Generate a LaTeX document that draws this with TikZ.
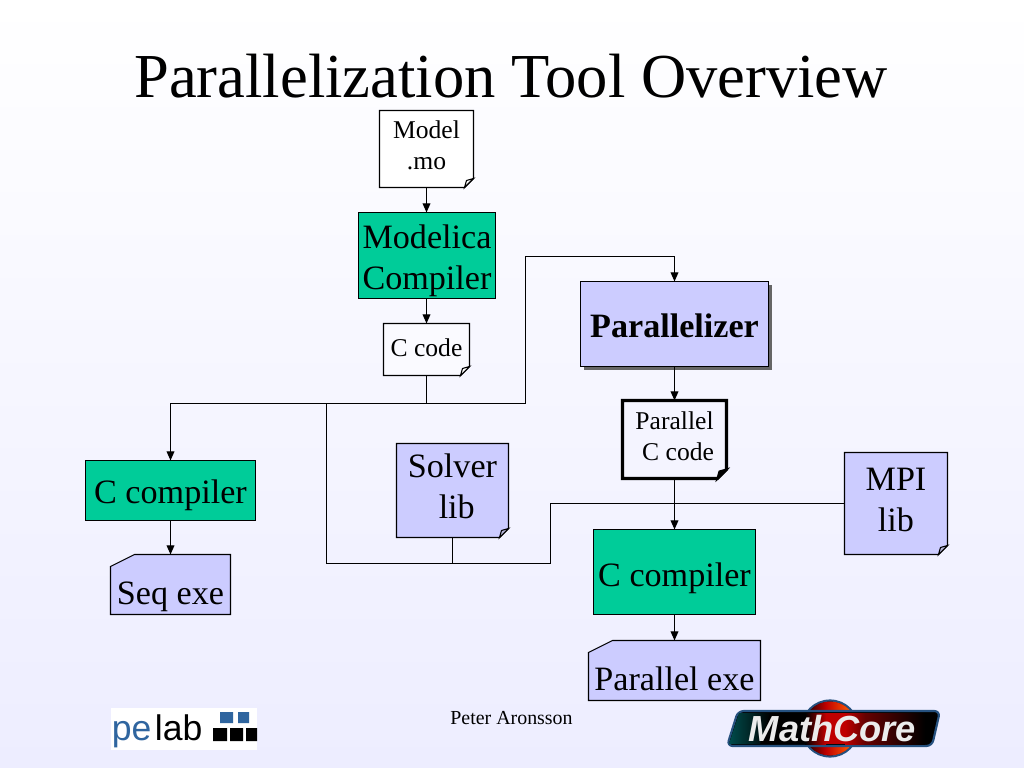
\documentclass[tikz,border=0pt]{standalone}
\usepackage{fontspec}
\setmainfont{Liberation Serif}
\newfontfamily\logofont{Liberation Sans}
\usetikzlibrary{arrows.meta,shadows}
\definecolor{slidelow}{HTML}{EDEDFF}
\definecolor{compgreen}{HTML}{00CC99}
\definecolor{liblilac}{HTML}{CCCCFF}
\definecolor{logoblue}{HTML}{2F659F}
\pgfdeclarelayer{back}
\pgfsetlayers{back,main}
\def\px{0.703125pt}
\tikzset{
  wire/.style={line width=0.85pt},
  arr/.style={wire,-{Triangle[length=6.5pt,width=5.5pt]}},
  boxsize/.style 2 args={minimum width=#1*\px,minimum height=#2*\px,inner sep=0pt,outer sep=0pt,align=center},
  small/.style={font=\fontsize{18}{21.6}\selectfont},
  big/.style={font=\fontsize{24}{28.8}\selectfont},
  compbox/.style={draw,line width=0.75pt,fill=compgreen,big}
}
% move the text of a box without moving the box
\newcommand{\lift}[2]{\raisebox{#1}[\height][\depth]{#2}}
% outline of a document, drawn behind its node, with the corner turned over
\newcommand{\docoutline}[3][0.75pt]{\begin{pgfonlayer}{back}
  \filldraw[fill=#3,line width=#1] (#2.north west) -- (#2.north east)
    -- ([yshift=9*\px]#2.south east) -- ([xshift=-9*\px]#2.south east) -- (#2.south west) -- cycle;
  \end{pgfonlayer}}
\newcommand{\foldmark}[3][0.75pt]{\begin{pgfonlayer}{back}
  \filldraw[fill=#3,line width=#1] ([xshift=-9*\px]#2.south east) -- ++(2,-7) -- ++(7,-2) -- cycle;
  \end{pgfonlayer}}
% outline of an executable, with the corner cut off
\newcommand{\exeoutline}[1]{\begin{pgfonlayer}{back}
  \filldraw[fill=liblilac,line width=0.75pt] ([xshift=24*\px]#1.north west) -- (#1.north east)
    -- (#1.south east) -- (#1.south west) -- ([yshift=-12*\px]#1.north west) -- cycle;
  \end{pgfonlayer}}
\begin{document}
\begin{tikzpicture}[x=\px,y=-\px]
    % Background
    \begin{pgfonlayer}{back}
    \shade[top color=white,bottom color=slidelow] (0,0) rectangle (1024,768);
    \end{pgfonlayer}
    \useasboundingbox (0,0) rectangle (1024,768);
    % Title
    \node[font=\fontsize{44}{52}\selectfont] (title) at (511,76) {Parallelization Tool Overview};
    % Left column
    \node[small,boxsize={94}{77}] (model) at (426.5,149) {\lift{2.4pt}{Model}\\\lift{2.4pt}{.mo}};
    \node[compbox,boxsize={137}{86}] (modelica) at (427,255.5) {\lift{-3.5pt}{Modelica}\\\lift{-3.5pt}{Compiler}};
    \node[small,boxsize={86}{52}] (ccode) at (426.5,349.5) {\lift{1.4pt}{C code}};
    \node[compbox,boxsize={170}{60}] (ccompa) at (170.5,490.5) {\lift{-3.5pt}{C compiler}};
    \node[big,boxsize={120}{60}] (seqexe) at (170.5,584.5) {\lift{-8.4pt}{Seq exe}};
    % Libraries
    \node[big,boxsize={112}{94}] (solver) at (452.5,490.5) {\lift{2.8pt}{Solver}\\\lift{2.8pt}{\hspace*{6pt}lib}};
    \node[big,boxsize={103}{102}] (mpi) at (896,503.5) {\lift{2.8pt}{MPI}\\\lift{2.8pt}{lib}};
    % Right column
    \node[draw,line width=0.75pt,fill=liblilac,boxsize={188}{85},font=\fontsize{24}{28.8}\selectfont\bfseries,
      drop shadow={shadow xshift=2.2pt,shadow yshift=-2.2pt,fill=black!60,opacity=1}] (parallelizer) at (674.5,324) {\lift{-1.4pt}{Parallelizer}};
    \node[small,boxsize={104}{78}] (pcode) at (674.5,439.5) {\lift{2.1pt}{Parallel}\\\lift{2.1pt}{\hspace*{5pt}C code}};
    \node[compbox,boxsize={162}{85}] (ccompb) at (674.5,572) {\lift{-4.2pt}{C compiler}};
    \node[big,boxsize={172}{60}] (pexe) at (674.5,670.5) {\lift{-5.6pt}{Parallel exe}};
    % Outlines behind the documents
    \docoutline{model}{white}
    \foldmark{model}{white}
    \docoutline{ccode}{slidelow!30}
    \foldmark{ccode}{white}
    \docoutline{solver}{liblilac}
    \foldmark{solver}{liblilac!70!gray}
    \docoutline{mpi}{liblilac}
    \foldmark{mpi}{liblilac!70!gray}
    \docoutline[2.2pt]{pcode}{slidelow!60}
    \foldmark[1.5pt]{pcode}{black}
    \exeoutline{seqexe}
    \exeoutline{pexe}
    % Junctions
    \coordinate (busmid) at (426.5,403.5);
    \coordinate (busa) at (326.5,403.5);
    \coordinate (busb) at (525.5,403.5);
    \coordinate (topb) at (525.5,256.5);
    \coordinate (lowa) at (326.5,563.5);
    \coordinate (lowb) at (550.5,563.5);
    \coordinate (lowc) at (550.5,503.5);
    \coordinate (solverfoot) at (452.5,563.5);
    % Straight arrows
    \draw[arr] (model) -- (model |- modelica.north);
    \draw[arr] (model |- modelica.south) -- (ccode);
    \draw[arr] (parallelizer) -- (pcode);
    \draw[arr] (pcode) -- (ccompb);
    \draw[arr] (ccompa) -- (seqexe);
    \draw[arr] (ccompb) -- (pexe);
    % Bus under C code
    \draw[wire] (ccode) -- (busmid);
    \draw[arr] (busa) -- (busmid -| ccompa) -- (ccompa);
    \draw[wire] (busa) -- (busmid) -- (busb);
    \draw[arr] (busb) -- (topb) -| (parallelizer);
    % Lines to the second compiler
    \draw[wire] (busa) -- (lowa) -- (lowb) -- (lowc) -- (mpi);
    \draw[wire] (solver) -- (solverfoot);
    % Footer
    \node[font=\fontsize{14}{16.8}\selectfont] (author) at (511.5,718) {Peter Aronsson};
    % pelab logo
    \node[fill=white,inner sep=0pt,minimum width=146*\px,minimum height=42*\px] (pelabbg) at (184,729) {};
    \node[font=\fontsize{25}{25}\logofont,anchor=base west,inner sep=0pt,text=black] (pelab) at (111.5,740) {\textcolor{logoblue}{pe}\kern2.5pt lab};
    \fill[logoblue] (220,712) rectangle (233,723) (238,712) rectangle (249,723);
    \fill[black] (213,728) rectangle (227,741) (230,728) rectangle (243,741) (246,728) rectangle (257,741);
    % MathCore logo
    \filldraw[draw=logoblue!80!black,fill=black,line width=1.5pt] (830,728.5) circle (28);
    \begin{scope}
      \clip (830,728.5) circle (27);
      \shade[left color=black,right color=red!75!black] (802,700) rectangle (826,757);
      \shade[left color=red!75!black,right color=orange!70!red] (826,700) rectangle (850,757);
      \shade[left color=orange!70!red,right color=red!40!black] (850,700) rectangle (858,757);
    \end{scope}
    \filldraw[fill=black,draw=logoblue!80!black,line width=1.5pt,rounded corners=4pt] (738,711) -- (940,711) -- (932,746) -- (727,746) -- cycle;
    \fill[red!75!black] (826,713) rectangle (845,744);
    \shade[left color=red!75!black,right color=red!40!black] (845,713) rectangle (865,744);
    \shade[left color=red!40!black,right color=black] (865,713) rectangle (925,744);
    \shade[left color=black,right color=red!75!black] (805,713) rectangle (826,744);
    \shade[left color=teal!60!black,right color=black,shading angle=90] (729,744) -- (739,713) -- (770,713) -- (760,744) -- cycle;
    \node[font=\fontsize{25.5}{25.5}\logofont\bfseries\itshape,text=black!8,inner sep=0pt] (mathcore) at (832.5,729) {MathCore};
\end{tikzpicture}
\end{document}
